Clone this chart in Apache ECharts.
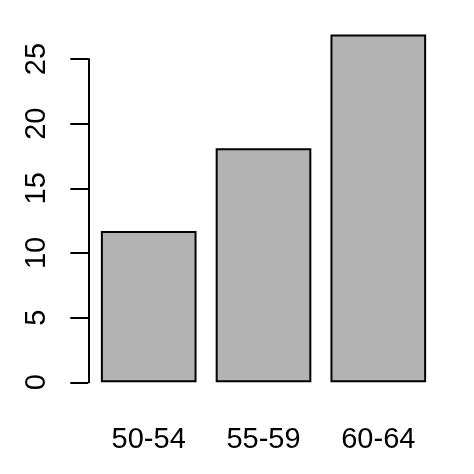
<!DOCTYPE html>
<html>
<head>
<meta charset="utf-8">
<script src="https://cdn.jsdelivr.net/npm/echarts@6/dist/echarts.min.js"></script>
<style>
html,body{margin:0;padding:0;background:#fff;}
#chart{width:474px;height:474px;}
</style>
</head>
<body>
<div id="chart"></div>
<script>
var categories = ['50-54', '55-59', '60-64'];
var values = [11.7, 18.1, 26.9];
var yTicks = [0, 5, 10, 15, 20, 25];

var chart = echarts.init(document.getElementById('chart'), null, {renderer: 'canvas'});
var font = "'Liberation Sans', Arial, Helvetica, sans-serif";
chart.setOption({
  animation: false,
  backgroundColor: '#ffffff',
  grid: {left: 91.3, right: 38.3, top: 59, bottom: 91.7, containLabel: false},
  xAxis: {
    type: 'category',
    data: categories,
    axisLine: {show: false},
    axisTick: {show: false},
    axisLabel: {color: '#000', fontSize: 29, fontFamily: font, margin: 58, verticalAlign: 'middle'}
  },
  yAxis: {
    type: 'value',
    min: yTicks[0],
    max: yTicks[yTicks.length - 1],
    interval: 5,
    offset: 3,
    splitLine: {show: false},
    axisLine: {show: true, lineStyle: {color: '#000', width: 2}},
    axisTick: {show: true, length: 18, lineStyle: {color: '#000', width: 2}},
    axisLabel: {color: '#000', fontSize: 29, fontFamily: font, rotate: 90, margin: 37}
  },
  series: [{
    type: 'bar',
    data: values,
    clip: false,
    barCategoryGap: '16.67%',
    itemStyle: {color: '#b3b3b3', borderColor: '#000', borderWidth: 2}
  }]
});
</script>
</body>
</html>
